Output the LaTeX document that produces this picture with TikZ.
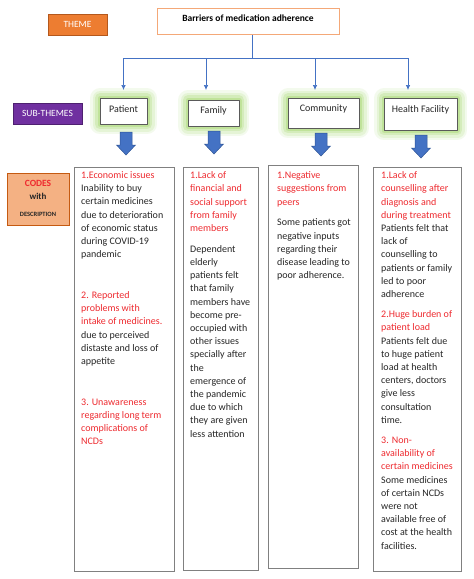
\documentclass[tikz,border=0pt]{standalone}
\usepackage{fontspec}
\setmainfont{Carlito}
\usetikzlibrary{arrows.meta}
\definecolor{themeor}{HTML}{ED7D31}
\definecolor{themeedge}{HTML}{B4581C}
\definecolor{titleedge}{HTML}{F4A878}
\definecolor{subpur}{HTML}{7030A0}
\definecolor{subpuredge}{HTML}{4E2070}
\definecolor{codefill}{HTML}{F4B183}
\definecolor{codeedge}{HTML}{C55A11}
\definecolor{codered}{HTML}{EE2A2F}
\definecolor{conblue}{HTML}{4472C4}
\definecolor{darkblue}{HTML}{2F5597}
\definecolor{glowc}{HTML}{92D050}
\definecolor{subedge}{HTML}{5A5A5A}
\definecolor{boxedge}{HTML}{808080}
\definecolor{txtc}{HTML}{262626}
\newcommand\rd[1]{\textcolor{codered}{#1}}
\begin{document}
\begin{tikzpicture}[x=1pt,y=-1pt,
  themebox/.style={fill=themeor, draw=themeedge, line width=0.6pt, minimum width=59, minimum height=21, text=white, inner sep=0, font=\fontsize{9.5}{11}\selectfont},
  subthemebox/.style={fill=subpur, draw=subpuredge, line width=0.6pt, minimum width=69, minimum height=21, text=white, inner sep=0, font=\fontsize{9.5}{11}\selectfont},
  titlebox/.style={draw=titleedge, fill=white, line width=0.8pt, inner sep=0, minimum width=182, font=\bfseries\fontsize{9.5}{11}\selectfont},
  subbox/.style={draw=subedge, fill=white, line width=0.7pt, inner sep=0, line join=round, font=\fontsize{10}{12}\selectfont, text=txtc,
    preaction={draw=glowc, line width=20pt, opacity=0.10},
    preaction={draw=glowc, line width=15pt, opacity=0.14},
    preaction={draw=glowc, line width=10pt, opacity=0.2},
    preaction={draw=glowc, line width=5pt, opacity=0.3}},
  codesbox/.style={fill=codefill, draw=codeedge, line width=0.6pt, minimum width=62, minimum height=52, inner sep=0},
  codebox/.style={draw=boxedge, fill=white, line width=0.8pt, inner sep=0},
  txt/.style={anchor=north west, inner sep=0, align=left, text=txtc, font=\fontsize{10}{13.2}\selectfont},
  conn/.style={draw=conblue, line width=0.7pt},
  arr/.style={conn, -{Latex[length=5pt,width=4.5pt]}},
  blockarrow/.style={fill=conblue, draw=darkblue, line width=0.5pt}
]
\useasboundingbox (0,0) rectangle (474,579);
\fill[white] (0,0) rectangle (474,579);

% left labels
\node[themebox] (theme) at (77.5,24.5) {THEME};
\node[subthemebox] (subthemes) at (47.5,113.5) {SUB-THEMES};
\node[codesbox] (codes) at (38,199) {};
\node[font=\bfseries\fontsize{9.5}{11}\selectfont, text=codered, inner sep=0] (codesA) at (38,183.5) {CODES};
\node[font=\bfseries\fontsize{9}{11}\selectfont, text=txtc, inner sep=0] (codesB) at (38,196) {with};
\node[font=\bfseries\fontsize{6.5}{8}\selectfont, text=txtc, inner sep=0] (codesC) at (38,214) {DESCRIPTION};

% title
\node[titlebox, text height=13.3, text depth=12.7, anchor=north] (t) at (248,8) {Barriers of medication adherence};

% sub-theme boxes
\node[subbox, minimum width=47, text height=14, text depth=12, anchor=north] (p) at (123.5,98) {Patient};
\node[subbox, minimum width=51, text height=13.5, text depth=12.5, anchor=north] (f) at (213.5,100) {Family};
\node[subbox, minimum width=71, text height=13, text depth=17, anchor=north] (c) at (323.5,98) {Community};
\node[subbox, minimum width=73, text height=14, text depth=18, anchor=north] (h) at (420.5,98) {Health Facility};

% connectors
\coordinate (j) at (252,58);
\draw[conn] (t.south -| j) -- (j);
\draw[arr, shorten >=8pt] (j) -| (p.north);
\draw[arr, shorten >=10pt] (j) -| ([xshift=-7.5pt]f.north);
\draw[arr, shorten >=8pt] (j) -| ([xshift=-8.5pt]c.north);
\draw[arr, shorten >=8pt] (j) -| ([xshift=-12.5pt]h.north);

% block arrows
\foreach \x/\y in {126/132, 214/131, 321/133, 421/135}{
  \draw[blockarrow] (\x-6,\y) -- (\x+6,\y) -- (\x+6,\y+13) -- (\x+9.5,\y+13) -- (\x,\y+23) -- (\x-9.5,\y+13) -- (\x-6,\y+13) -- cycle;
}

% code boxes
\node[codebox, minimum width=100, minimum height=404] (c1) at (124,369) {};
\node[codebox, minimum width=75, minimum height=403] (c2) at (220.5,368.5) {};
\node[codebox, minimum width=90, minimum height=403] (c3) at (313,366.5) {};
\node[codebox, minimum width=88, minimum height=404] (c4) at (417,369) {};

\node[txt] (t1) at (81,171.5) {\rd{1.Economic issues}\\
Inability to buy\\
certain medicines\\
due to deterioration\\
of economic status\\
during COVID-19\\
pandemic\\[27.5pt]
\rd{2. Reported}\\
\rd{problems with}\\
\rd{intake of medicines.}\\
due to perceived\\
distaste and loss of\\
appetite\\[27.6pt]
\rd{3. Unawareness}\\
\rd{regarding long term}\\
\rd{complications of}\\
\rd{NCDs}};

\node[txt] (t2) at (190,171.5) {\rd{1.Lack of}\\
\rd{financial and}\\
\rd{social support}\\
\rd{from family}\\
\rd{members}\\[7.6pt]
Dependent\\
elderly\\
patients felt\\
that family\\
members have\\
become pre-\\
occupied with\\
other issues\\
specially after\\
the\\
emergence of\\
the pandemic\\
due to which\\
they are given\\
less attention};

\node[txt] (t3) at (277,171.5) {\rd{1.Negative}\\
\rd{suggestions from}\\
\rd{peers}\\[7.6pt]
Some patients got\\
negative inputs\\
regarding their\\
disease leading to\\
poor adherence.};

\node[txt] (t4) at (381,171.5) {\rd{1.Lack of}\\
\rd{counselling after}\\
\rd{diagnosis and}\\
\rd{during treatment}\\
Patients felt that\\
lack of\\
counselling to\\
patients or family\\
led to poor\\
adherence\\[7pt]
\rd{2.Huge burden of}\\
\rd{patient load}\\
Patients felt due\\
to huge patient\\
load at health\\
centers, doctors\\
give less\\
consultation\\
time.\\[7pt]
\rd{3. Non-}\\
\rd{availability of}\\
\rd{certain medicines}\\
Some medicines\\
of certain NCDs\\
were not\\
available free of\\
cost at the health\\
facilities.};
\end{tikzpicture}
\end{document}
